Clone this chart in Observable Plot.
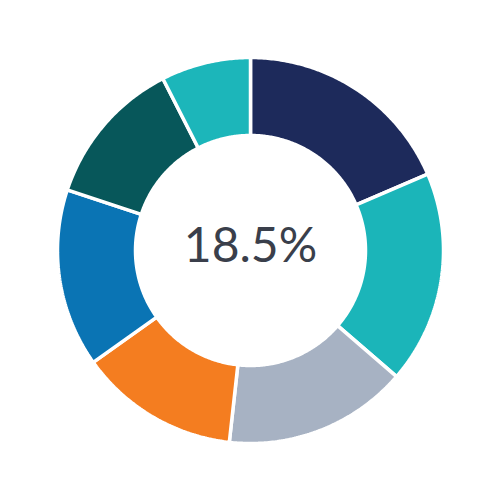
<!DOCTYPE html>
<html>
<head>
<meta charset="utf-8">
<script src="https://cdn.jsdelivr.net/npm/d3@7"></script>
<script src="https://cdn.jsdelivr.net/npm/@observablehq/plot@0.6"></script>
<style>
  html, body { margin: 0; padding: 0; background: #fff; }
  #chart { width: 500px; height: 500px; }
</style>
</head>
<body>
<div id="chart"></div>
<script>
const categories = ["A", "B", "C", "D", "E", "F", "G"];
const values = [18.5, 17.8, 15.4, 13.4, 14.9, 12.4, 7.5];
const colors = ["#1d2a5b", "#1bb5b9", "#a7b2c3", "#f47d20", "#0a74b4", "#07575a", "#1cb6ba"];
const centerLabel = "18.5%";

const outerR = 193, innerR = 115;
const total = d3.sum(values);
const pie = d3.pie().sort(null).value(d => d.value)(categories.map((c, i) => ({ key: c, value: values[i] })));

const pts = [];
for (const s of pie) {
  const n = Math.max(8, Math.ceil((s.endAngle - s.startAngle) / 0.01));
  for (let k = 0; k <= n; k++) {
    const a = s.startAngle + (s.endAngle - s.startAngle) * k / n;
    pts.push({ key: s.data.key, x: outerR * Math.sin(a), y: outerR * Math.cos(a) });
  }
  for (let k = n; k >= 0; k--) {
    const a = s.startAngle + (s.endAngle - s.startAngle) * k / n;
    pts.push({ key: s.data.key, x: innerR * Math.sin(a), y: innerR * Math.cos(a) });
  }
}

const chart = Plot.plot({
  width: 500,
  height: 500,
  margin: 0,
  x: { domain: [-250, 250], axis: null },
  y: { domain: [-250, 250], axis: null },
  color: { domain: categories, range: colors },
  style: { background: "#fff" },
  marks: [
    Plot.line(pts, { x: "x", y: "y", z: "key", fill: "key", stroke: "white", strokeWidth: 3.5, curve: "linear-closed", strokeLinejoin: "miter" }),
    Plot.text([centerLabel], { x: () => 0, y: () => 4, text: d => d, fontSize: 48, fontFamily: "Lato", fill: "#3a3f4b", textAnchor: "middle" })
  ]
});
document.getElementById("chart").appendChild(chart);
</script>
</body>
</html>
